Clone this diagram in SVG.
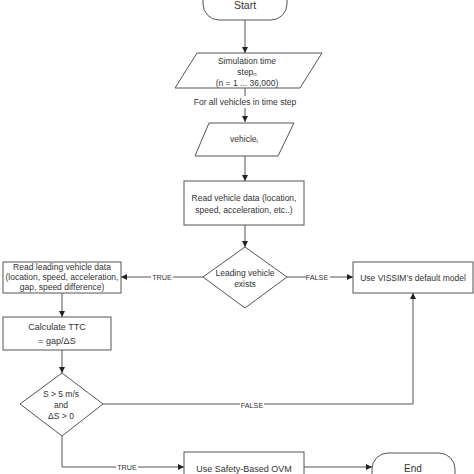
<svg xmlns="http://www.w3.org/2000/svg" width="474" height="474" viewBox="0 0 474 474">
<defs>
<marker id="ah" viewBox="0 0 10 10" refX="10" refY="5" markerWidth="6" markerHeight="6" orient="auto" markerUnits="userSpaceOnUse">
<path d="M0,0 L10,5 L0,10 z" fill="#222"/>
</marker>
<style>
.s{fill:#fff;stroke:#555;stroke-width:1}
.c{fill:none;stroke:#555;stroke-width:1}
text{font-family:"Liberation Sans",Arial,sans-serif;fill:#333;text-anchor:middle;dominant-baseline:central}
.t{font-size:8.5px}
.b{font-size:9px}
.l{font-size:7.2px}
.lb{fill:#fff;stroke:none}
</style>
</defs>
<rect width="474" height="474" fill="#fff"/>
<g id="connectors">
<path class="c" d="M245,20 V53" marker-end="url(#ah)"/>
<path class="c" d="M245,88 V96 M245,108 V122" marker-end="url(#ah)"/>
<path class="c" d="M245,156 V181" marker-end="url(#ah)"/>
<path class="c" d="M245,225 V247" marker-end="url(#ah)"/>
<path class="c" d="M203,277 H121" marker-end="url(#ah)"/>
<path class="c" d="M287,277 H353" marker-end="url(#ah)"/>
<path class="c" d="M62,293 V317" marker-end="url(#ah)"/>
<path class="c" d="M62,350 V373" marker-end="url(#ah)"/>
<path class="c" d="M103,404 H413 V293" marker-end="url(#ah)"/>
<path class="c" d="M62,436 V467 H184" marker-end="url(#ah)"/>
<path class="c" d="M304,467 H372" marker-end="url(#ah)"/>
<rect class="lb" x="151" y="272" width="22" height="10"/>
<text class="l" x="162" y="277">TRUE</text>
<rect class="lb" x="306" y="272" width="24" height="10"/>
<text class="l" x="317" y="277">FALSE</text>
<rect class="lb" x="240" y="400" width="24" height="10"/>
<text class="l" x="252" y="405">FALSE</text>
<rect class="lb" x="116" y="462" width="22" height="10"/>
<text class="l" x="127" y="467">TRUE</text>
</g>
<g id="start">
<rect class="s" x="203" y="-20" width="84" height="40" rx="16"/>
<text class="b" x="245" y="5" style="font-size:10.5px">Start</text>
</g>
<g id="timestep">
<path class="s" d="M197,53 H322 L300,88 H175 Z"/>
<text class="t" x="247" y="61">Simulation time</text>
<text class="t" x="247" y="72">step<tspan font-size="6" dy="2">n</tspan></text>
<text class="t" x="247" y="83">(n = 1 ... 36,000)</text>
</g>
<text class="t" x="245" y="102">For all vehicles in time step</text>
<g id="vehicle">
<path class="s" d="M209,123 H294 L278,156 H195 Z"/>
<text class="t" x="244" y="139">vehicle<tspan font-size="6" dy="2">i</tspan></text>
</g>
<g id="readdata">
<rect class="s" x="184" y="181" width="120" height="44"/>
<text class="t" x="244" y="198">Read vehicle data (location,</text>
<text class="t" x="244" y="210">speed, acceleration, etc..)</text>
</g>
<g id="leadingexists">
<path class="s" d="M245,247 L287,277 L245,308 L203,277 Z"/>
<text class="t" x="245" y="273">Leading vehicle</text>
<text class="t" x="245" y="284">exists</text>
</g>
<g id="readleading">
<rect class="s" x="3" y="262" width="118" height="31"/>
<text class="t" x="62" y="267">Read leading vehicle data</text>
<text class="t" x="62" y="277">(location, speed, acceleration,</text>
<text class="t" x="62" y="287">gap, speed difference)</text>
</g>
<g id="vissim">
<rect class="s" x="353" y="262" width="120" height="31"/>
<text class="t" x="413" y="278">Use VISSIM’s default model</text>
</g>
<g id="ttc">
<rect class="s" x="3" y="317" width="108" height="33"/>
<text class="b" x="57" y="327">Calculate TTC</text>
<text class="b" x="57" y="341">= gap/ΔS</text>
</g>
<g id="condition">
<path class="s" d="M62,373 L103,404 L62,436 L20,404 Z"/>
<text class="t" x="61" y="394">S &gt; 5 m/s</text>
<text class="t" x="61" y="405">and</text>
<text class="t" x="61" y="416">ΔS &gt; 0</text>
</g>
<g id="safety">
<rect class="s" x="184" y="452" width="120" height="40"/>
<text class="b" x="244" y="469">Use Safety-Based OVM</text>
</g>
<g id="end">
<rect class="s" x="372" y="453" width="83" height="40" rx="16"/>
<text class="b" x="413" y="468" style="font-size:10px">End</text>
</g>
</svg>
